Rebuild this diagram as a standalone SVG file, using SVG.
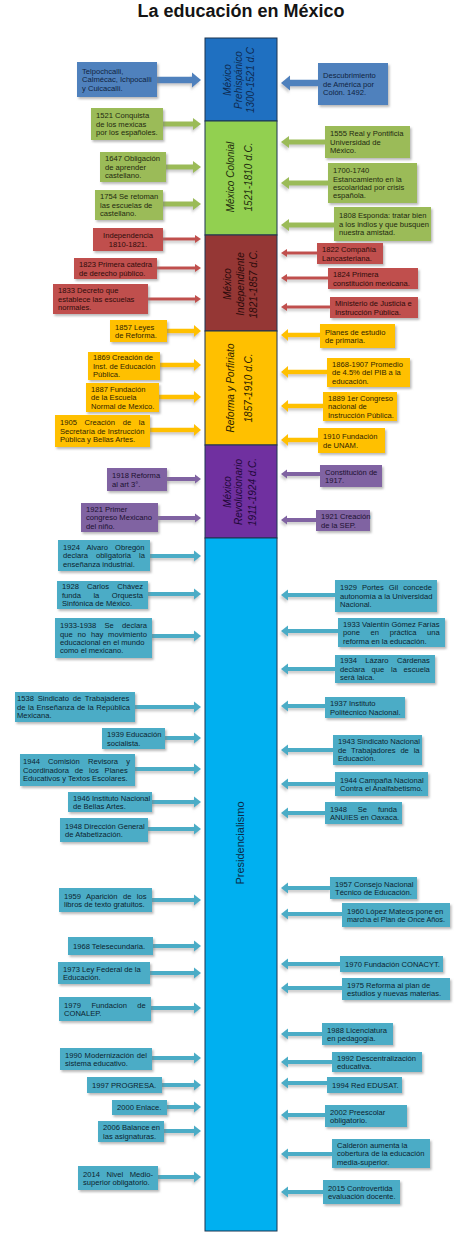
<svg xmlns="http://www.w3.org/2000/svg" width="474" height="1233" viewBox="0 0 474 1233">
<style>
text{font-family:"Liberation Sans",Arial,sans-serif;font-size:7.6px}
.title{font-size:18px;font-weight:bold;fill:#141414}
.era text{font-size:10px;font-style:italic;text-anchor:middle}
.era rect{stroke:#1c3450;stroke-width:1}
.box rect{filter:url(#sh)}
.bl rect{fill:#4F81BD}.bl text{fill:#10243f}
.gr rect{fill:#9BBB59}.gr text{fill:#1f2a10}
.rd rect{fill:#C0504D}.rd text{fill:#2e0c0b}
.ye rect{fill:#FFC000}.ye text{fill:#2f2400}
.pu rect{fill:#8064A2}.pu text{fill:#1c1030}
.cy rect{fill:#4BACC6}.cy text{fill:#0b2430}
#connectors line{fill:none}
.cb{stroke:#4F81BD;stroke-width:6.5;marker-end:url(#mb)}
.cg{stroke:#9BBB59;stroke-width:5;marker-end:url(#mg)}
.cr{stroke:#C0504D;stroke-width:3;marker-end:url(#mr)}
.cyl{stroke:#FFC000;stroke-width:4.5;marker-end:url(#my)}
.cp{stroke:#8064A2;stroke-width:4;marker-end:url(#mp)}
.cc{stroke:#4BACC6;stroke-width:4;marker-end:url(#mc)}
</style>
<defs>
<filter id="sh" x="-10%" y="-15%" width="130%" height="150%"><feDropShadow dx="1.5" dy="2" stdDeviation="1" flood-color="#7f7f7f" flood-opacity="0.55"/></filter>
<filter id="sh2" x="-5%" y="-5%" width="110%" height="110%"><feDropShadow dx="-1" dy="2.5" stdDeviation="0.8" flood-color="#9a9a9a" flood-opacity="0.5"/></filter>
<marker id="mb" markerUnits="userSpaceOnUse" markerWidth="12" markerHeight="18" refX="0" refY="7.5" orient="auto" overflow="visible"><path d="M0,0L9,7.5L0,15z" fill="#4F81BD"/></marker>
<marker id="mg" markerUnits="userSpaceOnUse" markerWidth="10" markerHeight="14" refX="0" refY="6" orient="auto" overflow="visible"><path d="M0,0L8,6L0,12z" fill="#9BBB59"/></marker>
<marker id="mr" markerUnits="userSpaceOnUse" markerWidth="8" markerHeight="10" refX="0" refY="4" orient="auto" overflow="visible"><path d="M0,0L6,4L0,8z" fill="#C0504D"/></marker>
<marker id="my" markerUnits="userSpaceOnUse" markerWidth="9" markerHeight="14" refX="0" refY="6" orient="auto" overflow="visible"><path d="M0,0L7,6L0,12z" fill="#FFC000"/></marker>
<marker id="mp" markerUnits="userSpaceOnUse" markerWidth="8" markerHeight="11" refX="0" refY="4.5" orient="auto" overflow="visible"><path d="M0,0L6,4.5L0,9z" fill="#8064A2"/></marker>
<marker id="mc" markerUnits="userSpaceOnUse" markerWidth="9" markerHeight="13" refX="0" refY="5.5" orient="auto" overflow="visible"><path d="M0,0L7,5.5L0,11z" fill="#4BACC6"/></marker>
</defs>
<rect width="474" height="1233" fill="#ffffff"/>
<text class="title" x="241" y="17" text-anchor="middle">La educación en México</text>

<g id="eras">
<g id="era-prehispanico" class="era"><rect x="205" y="38" width="72" height="83" fill="#1F70C1"/>
<text fill="#0e2a50" transform="translate(230.6,80) rotate(-90)">México</text>
<text fill="#0e2a50" transform="translate(241.6,80) rotate(-90)">Prehispánico</text>
<text fill="#0e2a50" transform="translate(253.6,80) rotate(-90)">1300-1521 d.C</text></g>
<g id="era-colonial" class="era"><rect x="205" y="121" width="72" height="114" fill="#92D050"/>
<text fill="#1d2b0e" transform="translate(233.6,177) rotate(-90)">México Colonial</text>
<text fill="#1d2b0e" transform="translate(251.6,177) rotate(-90)">1521-1810 d.C.</text></g>
<g id="era-independiente" class="era"><rect x="205" y="235" width="72" height="96" fill="#953735"/>
<text fill="#2a0a0a" transform="translate(230.6,284) rotate(-90)">México</text>
<text fill="#2a0a0a" transform="translate(243.6,284) rotate(-90)">Independiente</text>
<text fill="#2a0a0a" transform="translate(256.6,284) rotate(-90)">1821-1857 d.C.</text></g>
<g id="era-reforma" class="era"><rect x="205" y="331" width="72" height="114" fill="#FFC000"/>
<text fill="#2b2000" transform="translate(233.6,388) rotate(-90)">Reforma y Porfiriato</text>
<text fill="#2b2000" transform="translate(251.6,388) rotate(-90)">1857-1910 d.C.</text></g>
<g id="era-revolucionario" class="era"><rect x="205" y="445" width="72" height="93" fill="#7030A0"/>
<text fill="#1e0836" transform="translate(230.6,492) rotate(-90)">México</text>
<text fill="#1e0836" transform="translate(241.6,492) rotate(-90)">Revolucionario</text>
<text fill="#1e0836" transform="translate(255.6,492) rotate(-90)">1911-1924 d.C.</text></g>
<g id="era-presidencialismo" class="era"><rect x="205" y="538" width="72" height="693" fill="#00B0F0"/>
<text fill="#0c2a48" style="font-style:normal;font-size:11px" transform="translate(244,843) rotate(-90)">Presidencialismo</text></g>
</g>

<g id="connectors" filter="url(#sh2)">
<line class="cb" x1="156" y1="80" x2="192" y2="80"/>
<line class="cb" x1="319" y1="83" x2="290" y2="83"/>
<line class="cg" x1="162" y1="124" x2="193" y2="124"/>
<line class="cg" x1="165" y1="167" x2="193" y2="167"/>
<line class="cg" x1="162" y1="204" x2="193" y2="204"/>
<line class="cg" x1="326" y1="142" x2="289" y2="142"/>
<line class="cg" x1="329" y1="183" x2="289" y2="183"/>
<line class="cg" x1="335" y1="225" x2="289" y2="225"/>
<line class="cr" x1="162" y1="239" x2="195" y2="239"/>
<line class="cr" x1="156" y1="268" x2="195" y2="268"/>
<line class="cr" x1="147" y1="299" x2="195" y2="299"/>
<line class="cr" x1="318" y1="253" x2="287" y2="253"/>
<line class="cr" x1="329" y1="278" x2="287" y2="278"/>
<line class="cr" x1="331" y1="307" x2="287" y2="307"/>
<line class="cyl" x1="166" y1="331" x2="194" y2="331"/>
<line class="cyl" x1="159" y1="365" x2="194" y2="365"/>
<line class="cyl" x1="158" y1="397" x2="194" y2="397"/>
<line class="cyl" x1="149" y1="430" x2="194" y2="430"/>
<line class="cyl" x1="321" y1="335" x2="288" y2="335"/>
<line class="cyl" x1="328" y1="372" x2="288" y2="372"/>
<line class="cyl" x1="324" y1="406" x2="288" y2="406"/>
<line class="cyl" x1="319" y1="440" x2="288" y2="440"/>
<line class="cp" x1="166" y1="479" x2="195" y2="479"/>
<line class="cp" x1="157" y1="518" x2="195" y2="518"/>
<line class="cp" x1="321" y1="474" x2="287" y2="474"/>
<line class="cp" x1="317" y1="520" x2="287" y2="520"/>
<line class="cc" x1="149" y1="556" x2="194" y2="556"/>
<line class="cc" x1="147" y1="594" x2="194" y2="594"/>
<line class="cc" x1="151" y1="636" x2="194" y2="636"/>
<line class="cc" x1="134" y1="707" x2="194" y2="707"/>
<line class="cc" x1="164" y1="738" x2="194" y2="738"/>
<line class="cc" x1="134" y1="769" x2="194" y2="769"/>
<line class="cc" x1="151" y1="802" x2="194" y2="802"/>
<line class="cc" x1="147" y1="829" x2="194" y2="829"/>
<line class="cc" x1="151" y1="900" x2="194" y2="900"/>
<line class="cc" x1="152" y1="946" x2="194" y2="946"/>
<line class="cc" x1="149" y1="973" x2="194" y2="973"/>
<line class="cc" x1="150" y1="1008" x2="194" y2="1008"/>
<line class="cc" x1="151" y1="1058" x2="194" y2="1058"/>
<line class="cc" x1="161" y1="1085" x2="194" y2="1085"/>
<line class="cc" x1="166" y1="1107" x2="194" y2="1107"/>
<line class="cc" x1="163" y1="1131" x2="194" y2="1131"/>
<line class="cc" x1="157" y1="1177" x2="194" y2="1177"/>
<line class="cc" x1="336" y1="595" x2="288" y2="595"/>
<line class="cc" x1="339" y1="631" x2="288" y2="631"/>
<line class="cc" x1="336" y1="669" x2="288" y2="669"/>
<line class="cc" x1="326" y1="706" x2="288" y2="706"/>
<line class="cc" x1="334" y1="750" x2="288" y2="750"/>
<line class="cc" x1="336" y1="784" x2="288" y2="784"/>
<line class="cc" x1="326" y1="813" x2="288" y2="813"/>
<line class="cc" x1="331" y1="888" x2="288" y2="888"/>
<line class="cc" x1="343" y1="914" x2="288" y2="914"/>
<line class="cc" x1="341" y1="964" x2="288" y2="964"/>
<line class="cc" x1="343" y1="988" x2="288" y2="988"/>
<line class="cc" x1="323" y1="1034" x2="288" y2="1034"/>
<line class="cc" x1="333" y1="1062" x2="288" y2="1062"/>
<line class="cc" x1="328" y1="1083" x2="288" y2="1083"/>
<line class="cc" x1="326" y1="1115" x2="288" y2="1115"/>
<line class="cc" x1="333" y1="1154" x2="288" y2="1154"/>
<line class="cc" x1="324" y1="1192" x2="288" y2="1192"/>
</g>

<g id="L1" class="box bl"><rect x="77" y="62" width="80" height="35"/><text x="82" y="73.9">Telpochcalli,</text><text x="82" y="82.3">Calmécac, Ichpocalli</text><text x="82" y="90.7">y Cuicacalli.</text></g>
<g id="R1" class="box bl"><rect x="318" y="63" width="70" height="42"/><text x="323" y="78.4">Descubrimiento</text><text x="323" y="86.8">de América por</text><text x="323" y="95.2">Colón. 1492.</text></g>

<g id="L2" class="box gr"><rect x="91" y="108" width="72" height="32"/><text x="96" y="118.4">1521 Conquista</text><text x="96" y="126.8">de los mexicas</text><text x="96" y="135.2">por los españoles.</text></g>
<g id="L3" class="box gr"><rect x="100" y="152" width="66" height="30"/><text x="105" y="161.4">1647 Obligación</text><text x="105" y="169.8">de aprender</text><text x="105" y="178.2">castellano.</text></g>
<g id="L4" class="box gr"><rect x="95" y="190" width="68" height="30"/><text x="100" y="199.4">1754 Se retoman</text><text x="100" y="207.8">las escuelas de</text><text x="100" y="216.2">castellano.</text></g>
<g id="R2" class="box gr"><rect x="325" y="126" width="85" height="32"/><text x="330" y="136.4">1555 Real y Pontificia</text><text x="330" y="144.8">Universidad de</text><text x="330" y="153.2">México.</text></g>
<g id="R3" class="box gr"><rect x="328" y="163" width="89" height="40"/><text x="333" y="173.2">1700-1740</text><text x="333" y="181.6">Estancamiento en la</text><text x="333" y="190">escolaridad por crisis</text><text x="333" y="198.4">española.</text></g>
<g id="R4" class="box gr"><rect x="334" y="207" width="97" height="34"/><text x="339" y="218.4">1808 Esponda: tratar bien</text><text x="339" y="226.8">a los indios y que busquen</text><text x="339" y="235.2">nuestra amistad.</text></g>

<g id="L5" class="box rd"><rect x="93" y="228" width="70" height="23"/><text x="128" y="238.1" text-anchor="middle">Independencia</text><text x="128" y="246.5" text-anchor="middle">1810-1821.</text></g>
<g id="L6" class="box rd"><rect x="74" y="258" width="83" height="21"/><text x="79" y="267.1">1823 Primera catedra</text><text x="79" y="275.5">de derecho público.</text></g>
<g id="L7" class="box rd"><rect x="53" y="284" width="95" height="30"/><text x="58" y="293.4">1833 Decreto que</text><text x="58" y="301.8">establece las escuelas</text><text x="58" y="310.2">normales.</text></g>
<g id="R5" class="box rd"><rect x="317" y="243" width="66" height="21"/><text x="322" y="252.1">1822 Compañía</text><text x="322" y="260.5">Lancasteriana.</text></g>
<g id="R6" class="box rd"><rect x="328" y="268" width="90" height="21"/><text x="333" y="277.1">1824 Primera</text><text x="333" y="285.5">constitución mexicana.</text></g>
<g id="R7" class="box rd"><rect x="330" y="297" width="88" height="21"/><text x="335" y="306.1">Ministerio de Justicia e</text><text x="335" y="314.5">Instrucción Pública.</text></g>

<g id="L8" class="box ye"><rect x="110" y="320" width="57" height="22"/><text x="115" y="329.6">1857 Leyes</text><text x="115" y="338">de Reforma.</text></g>
<g id="L9" class="box ye"><rect x="88" y="352" width="72" height="28"/><text x="93" y="360.4">1869 Creación de</text><text x="93" y="368.8">Inst. de Educación</text><text x="93" y="377.2">Pública.</text></g>
<g id="L10" class="box ye"><rect x="86" y="383" width="73" height="29"/><text x="91" y="391.9">1887 Fundación</text><text x="91" y="400.3">de la Escuela</text><text x="91" y="408.7">Normal de Mexico.</text></g>
<g id="L11" class="box ye"><rect x="55" y="415" width="95" height="32"/><text x="60" y="425.4" word-spacing="5.6">1905 Creación de la</text><text x="60" y="433.8">Secretaría de Instrucción</text><text x="60" y="442.2">Pública y Bellas Artes.</text></g>
<g id="R8" class="box ye"><rect x="320" y="324" width="75" height="24"/><text x="325" y="334.6">Planes de estudio</text><text x="325" y="343">de primaria.</text></g>
<g id="R9" class="box ye"><rect x="327" y="358" width="83" height="29"/><text x="332" y="366.9">1868-1907 Promedio</text><text x="332" y="375.3">de 4.5% del PIB a la</text><text x="332" y="383.7">educación.</text></g>
<g id="R10" class="box ye"><rect x="323" y="392" width="74" height="29"/><text x="328" y="400.9">1889 1er Congreso</text><text x="328" y="409.3">nacional de</text><text x="328" y="417.7">Instrucción Pública.</text></g>
<g id="R11" class="box ye"><rect x="318" y="428" width="67" height="25"/><text x="323" y="439.1">1910 Fundación</text><text x="323" y="447.5">de UNAM.</text></g>

<g id="L12" class="box pu"><rect x="107" y="468" width="60" height="23"/><text x="112" y="478.1">1918 Reforma</text><text x="112" y="486.5">al art 3°.</text></g>
<g id="L13" class="box pu"><rect x="81" y="503" width="77" height="29"/><text x="86" y="511.9">1921 Primer</text><text x="86" y="520.3">congreso Mexicano</text><text x="86" y="528.7">del niño.</text></g>
<g id="R12" class="box pu"><rect x="320" y="465" width="62" height="22"/><text x="325" y="474.6">Constitución de</text><text x="325" y="483">1917.</text></g>
<g id="R13" class="box pu"><rect x="316" y="510" width="54" height="21"/><text x="321" y="519.1">1921 Creación</text><text x="321" y="527.5">de la SEP.</text></g>

<g id="L14" class="box cy"><rect x="58" y="540" width="92" height="31"/><text x="63" y="549.9" word-spacing="4.9">1924 Alvaro Obregón</text><text x="63" y="558.3" word-spacing="5.9">declara obligatoria la</text><text x="63" y="566.7">enseñanza industrial.</text></g>
<g id="L15" class="box cy"><rect x="57" y="581" width="91" height="28"/><text x="62" y="589.4" word-spacing="6.1">1928 Carlos Chávez</text><text x="62" y="597.8" word-spacing="10.3">funda la Orquesta</text><text x="62" y="606.2">Sinfónica de México.</text></g>
<g id="L16" class="box cy"><rect x="55" y="618" width="97" height="40"/><text x="60" y="628.2" word-spacing="6.1">1933-1938 Se declara</text><text x="60" y="636.6" word-spacing="2.8">que no hay movimiento</text><text x="60" y="645">educacional en el mundo</text><text x="60" y="653.4">como el mexicano.</text></g>
<g id="L17" class="box cy"><rect x="15" y="692" width="120" height="30"/><text x="17" y="701.4" word-spacing="1.7">1538 Sindicato de Trabajaderes</text><text x="17" y="709.8" word-spacing="0.4">de la Enseñanza de la República</text><text x="17" y="718.2">Mexicana.</text></g>
<g id="L18" class="box cy"><rect x="102" y="728" width="63" height="21"/><text x="107" y="737.1">1939 Educación</text><text x="107" y="745.5">socialista.</text></g>
<g id="L19" class="box cy"><rect x="20" y="754" width="115" height="32"/><text x="23" y="764.4" word-spacing="6.1">1944 Comisión Revisora y</text><text x="23" y="772.8" word-spacing="3.7">Coordinadora de los Planes</text><text x="23" y="781.2">Educativos y Textos Escolares.</text></g>
<g id="L20" class="box cy"><rect x="68" y="792" width="84" height="20"/><text x="73" y="800.6">1946 Instituto Nacional</text><text x="73" y="809">de Bellas Artes.</text></g>
<g id="L21" class="box cy"><rect x="60" y="818" width="88" height="24"/><text x="65" y="828.6">1948 Dirección General</text><text x="65" y="837">de Afabetización.</text></g>
<g id="L22" class="box cy"><rect x="59" y="888" width="93" height="24"/><text x="64" y="898.6" word-spacing="3.3">1959 Aparición de los</text><text x="64" y="907">libros de texto gratuitos.</text></g>
<g id="L23" class="box cy"><rect x="68" y="937" width="85" height="18"/><text x="73" y="948.8">1968 Telesecundaria.</text></g>
<g id="L24" class="box cy"><rect x="58" y="962" width="92" height="22"/><text x="63" y="971.6">1973 Ley Federal de la</text><text x="63" y="980">Educación.</text></g>
<g id="L25" class="box cy"><rect x="59" y="997" width="92" height="24"/><text x="64" y="1007.6" word-spacing="8.4">1979 Fundacion de</text><text x="64" y="1016">CONALEP.</text></g>
<g id="L26" class="box cy"><rect x="60" y="1048" width="92" height="22"/><text x="65" y="1057.6" word-spacing="0.6">1990 Modernización del</text><text x="65" y="1066">sistema educativo.</text></g>
<g id="L27" class="box cy"><rect x="87" y="1077" width="75" height="16"/><text x="92" y="1087.8">1997 PROGRESA.</text></g>
<g id="L28" class="box cy"><rect x="112" y="1100" width="55" height="15"/><text x="117" y="1110.3">2000 Enlace.</text></g>
<g id="L29" class="box cy"><rect x="98" y="1121" width="66" height="21"/><text x="103" y="1130.1">2006 Balance en</text><text x="103" y="1138.5">las asignaturas.</text></g>
<g id="L30" class="box cy"><rect x="78" y="1166" width="80" height="24"/><text x="83" y="1176.6" word-spacing="4.4">2014 Nivel Medio-</text><text x="83" y="1185">superior obligatorio.</text></g>

<g id="R14" class="box cy"><rect x="335" y="580" width="102" height="32"/><text x="340" y="590.4" word-spacing="2.9">1929 Portes Gil concede</text><text x="340" y="598.8">autonomía a la Universidad</text><text x="340" y="607.2">Nacional.</text></g>
<g id="R15" class="box cy"><rect x="338" y="618" width="107" height="29"/><text x="343" y="626.9">1933 Valentín Gómez Farías</text><text x="343" y="635.3" word-spacing="8.6">pone en práctica una</text><text x="343" y="643.7">reforma en la educación.</text></g>
<g id="R16" class="box cy"><rect x="335" y="655" width="100" height="28"/><text x="340" y="663.4" word-spacing="6.3">1934 Lázaro Cárdenas</text><text x="340" y="671.8" word-spacing="4.6">declara que la escuela</text><text x="340" y="680.2">será laica.</text></g>
<g id="R17" class="box cy"><rect x="325" y="697" width="80" height="21"/><text x="330" y="706.1">1937 Instituto</text><text x="330" y="714.5">Politécnico Nacional.</text></g>
<g id="R18" class="box cy"><rect x="333" y="735" width="89" height="30"/><text x="338" y="744.4">1943 Sindicato Nacional</text><text x="338" y="752.8" word-spacing="2.7">de Trabajadores de la</text><text x="338" y="761.2">Educación.</text></g>
<g id="R19" class="box cy"><rect x="335" y="772" width="93" height="24"/><text x="340" y="782.6">1944 Campaña Nacional</text><text x="340" y="791">Contra el Analfabetismo.</text></g>
<g id="R20" class="box cy"><rect x="325" y="802" width="77" height="22"/><text x="330" y="811.6" word-spacing="8.8">1948 Se funda</text><text x="330" y="820">ANUIES en Oaxaca.</text></g>
<g id="R21" class="box cy"><rect x="330" y="877" width="87" height="22"/><text x="335" y="886.6">1957 Consejo Nacional</text><text x="335" y="895">Técnico de Educación.</text></g>
<g id="R22" class="box cy"><rect x="342" y="903" width="108" height="24"/><text x="347" y="913.6">1960 López Mateos pone en</text><text x="347" y="922" textLength="98" lengthAdjust="spacingAndGlyphs">marcha el Plan de Once Años.</text></g>
<g id="R23" class="box cy"><rect x="340" y="956" width="103" height="16"/><text x="345" y="966.8">1970 Fundación CONACYT.</text></g>
<g id="R24" class="box cy"><rect x="342" y="978" width="108" height="22"/><text x="347" y="987.6">1975 Reforma al plan de</text><text x="347" y="996">estudios y nuevas materias.</text></g>
<g id="R25" class="box cy"><rect x="322" y="1023" width="71" height="22"/><text x="327" y="1032.6">1988 Licenciatura</text><text x="327" y="1041">en pedagogía.</text></g>
<g id="R26" class="box cy"><rect x="332" y="1052" width="90" height="20"/><text x="337" y="1060.6">1992 Descentralización</text><text x="337" y="1069">educativa.</text></g>
<g id="R27" class="box cy"><rect x="327" y="1077" width="75" height="16"/><text x="332" y="1087.8">1994 Red EDUSAT.</text></g>
<g id="R28" class="box cy"><rect x="325" y="1105" width="82" height="22"/><text x="330" y="1114.6">2002 Preescolar</text><text x="330" y="1123">obligatorio.</text></g>
<g id="R29" class="box cy"><rect x="332" y="1139" width="98" height="29"/><text x="337" y="1147.9">Calderón aumenta la</text><text x="337" y="1156.3">cobertura de la educación</text><text x="337" y="1164.7">media-superior.</text></g>
<g id="R30" class="box cy"><rect x="323" y="1180" width="77" height="24"/><text x="328" y="1190.6">2015 Controvertida</text><text x="328" y="1199">evaluación docente.</text></g>
</svg>
